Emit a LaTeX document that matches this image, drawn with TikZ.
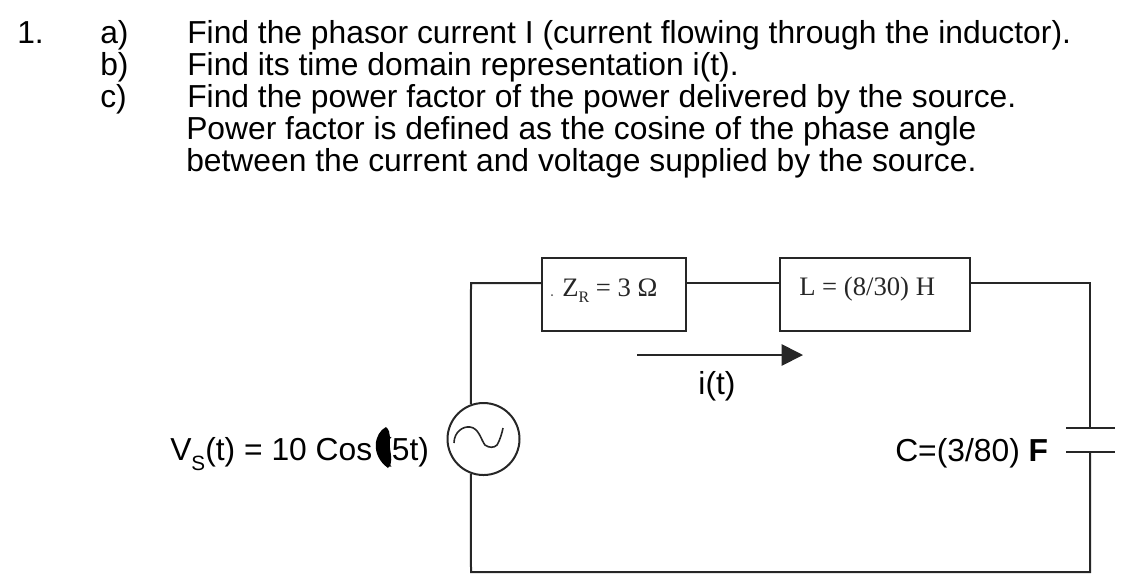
\documentclass[tikz,border=0pt]{standalone}
\usepackage{fontspec}
\setmainfont{Liberation Sans}
\newfontfamily\boxfont{Liberation Serif}
\usetikzlibrary{arrows.meta}
\tikzset{
	wire/.style={line width=1.5pt, color=black!85},
	elembox/.style={draw, line width=1.5pt, color=black!85, minimum height=54.75pt, inner sep=0pt},
	qtext/.style={anchor=base west, inner sep=0pt, font=\fontsize{23.85pt}{28pt}\selectfont, color=black},
	circtext/.style={inner sep=0pt, font=\fontsize{23.85pt}{28pt}\selectfont, color=black},
	boxtext/.style={anchor=base west, inner sep=0pt, font=\boxfont\fontsize{20pt}{24pt}\selectfont, color=black!85}
}
\begin{document}
\begin{tikzpicture}[x=0.75pt, y=-0.75pt]
		%%%%% PAGE %%%%%
		\useasboundingbox (0, 0) rectangle (1130, 587);
		
		%%%%% QUESTION %%%%%
		\node[qtext] (num) at (17, 43) {1.};
		\node[qtext] (parta) at (100, 43) {a)};
		\node[qtext] (partb) at (100, 75) {b)};
		\node[qtext] (partc) at (100, 107) {c)};
		\node[qtext] (linea) at (187, 43) {Find the phasor current I (current flowing through the inductor).};
		\node[qtext] (lineb) at (187, 75) {Find its time domain representation i(t).};
		\node[qtext] (linec) at (187, 107) {Find the power factor of the power delivered by the source.};
		\node[qtext] (lined) at (186, 139) {Power factor is defined as the cosine of the phase angle};
		\node[qtext] (linee) at (186, 171) {between the current and voltage supplied by the source.};
		
		%%%%% CIRCUIT %%%%%
		\node[elembox, minimum width=108pt] (zr) at (614, 294.5) {};
		\node[elembox, minimum width=142.5pt] (ind) at (875, 294.5) {};
		\node[draw, circle, line width=1.5pt, color=black!85, minimum size=54pt, inner sep=0pt] (src) at (483.5, 439) {};
		
		\coordinate (zrin) at (542, 283);
		\coordinate (zrout) at (686, 283);
		\coordinate (indin) at (780, 283);
		\coordinate (indout) at (970, 283);
		\coordinate (tl) at (471, 283);
		\coordinate (tr) at (1090, 283);
		\coordinate (bl) at (471, 572);
		\coordinate (br) at (1090, 572);
		\coordinate (capt) at (1090, 428);
		\coordinate (capb) at (1090, 452);
		
		\draw[wire] (src.110) -- (tl) -- (zrin);
		\draw[wire] (zrout) -- (indin);
		\draw[wire] (indout) -- (tr) -- (capt);
		\draw[wire] (capb) -- (br) -- (bl) -- (src.250);
		\draw[wire] (1066, 428) -- (1115, 428);
		\draw[wire] (1066, 452) -- (1115, 452);
		
		\draw[line width=1.2pt, color=black!85] (454, 443) .. controls (454, 432) and (463, 426) .. (470, 427) .. controls (479, 428) and (481, 440) .. (485, 445) .. controls (489, 448) and (494, 448) .. (497, 445) .. controls (500, 440) and (502, 433) .. (503, 428);
		
		\coordinate (arrowa) at (637, 355);
		\coordinate (arrowb) at (803, 355);
		\draw[line width=1.3pt, color=black!85, -{Triangle[length=16pt, width=16pt]}] (arrowa) -- (arrowb);
		
		%%%%% LABELS %%%%%
		\fill[black!70] (552, 295) circle (1);
		\node[boxtext] (zrlabel) at (562, 296) {Z\raisebox{-5pt}{\fontsize{12pt}{14pt}\selectfont R} = 3 Ω};
		\node[boxtext] (indlabel) at (799, 295) {L = (8/30) H};
		\node[circtext] (ilabel) at (717, 386) {i(t)};
		\node[qtext] (vlabel) at (170, 460) {V\raisebox{-8pt}{\fontsize{15.5pt}{18pt}\selectfont S}(t) = 10 Cos};
		\node[qtext] (vlabelb) at (381, 460) {(5t)};
		\fill[black] (386, 427) .. controls (374, 433) and (370, 455) .. (388, 468) .. controls (393, 464) and (391, 456) .. (390, 448) .. controls (389, 440) and (392, 432) .. (386, 427);
		\node[qtext] (clabel) at (895, 461) {C=(3/80) \textbf{F}};
		
		%%%%% END %%%%%
	\end{tikzpicture}
\end{document}
